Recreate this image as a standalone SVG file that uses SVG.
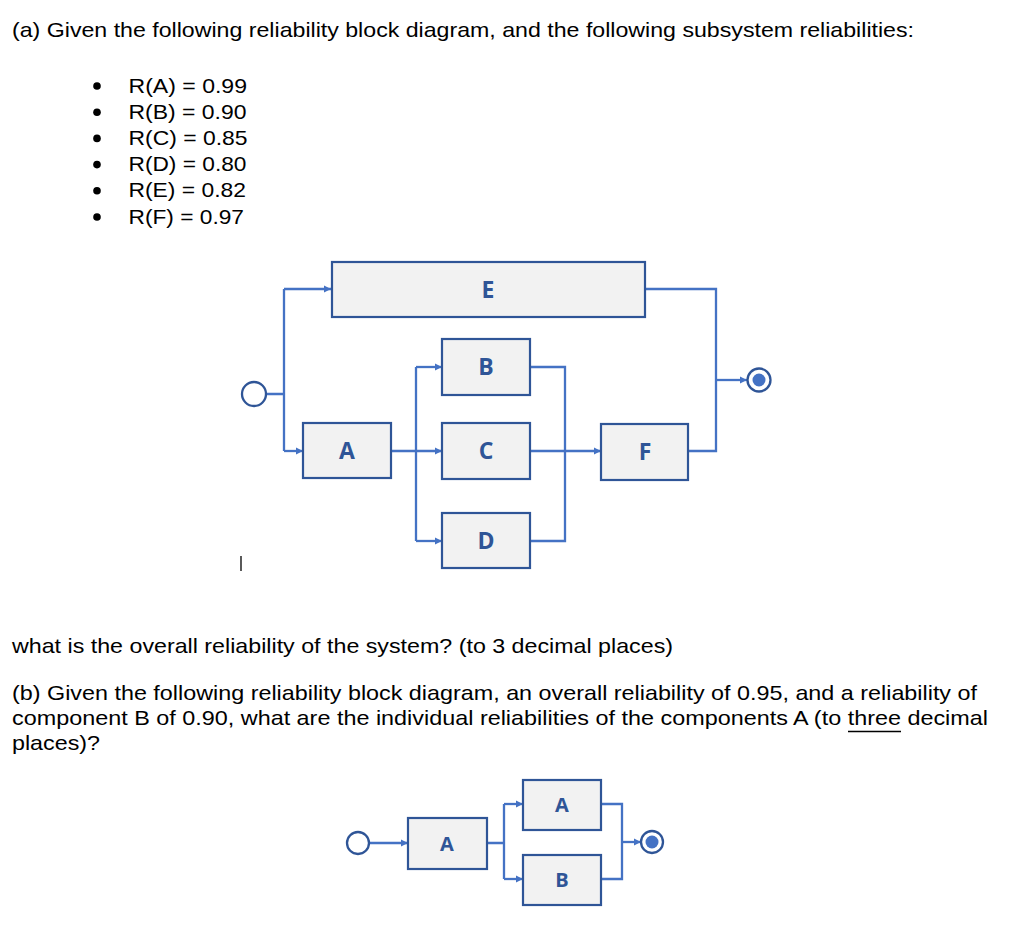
<svg xmlns="http://www.w3.org/2000/svg" width="1024" height="929" viewBox="0 0 1024 929">
<style>
.t{font-family:"Liberation Sans",Arial,sans-serif;font-size:21px;fill:#000}
.box{fill:#F2F2F2;stroke:#2F5597;stroke-width:2.2}
.lbl{font-family:"Open Sans","Liberation Sans",sans-serif;font-weight:700;font-size:23px;fill:#2F5597;text-anchor:middle}
.lbs{font-size:20px}
.ln{fill:none;stroke:#4472C4;stroke-width:2.3}
.ar{fill:none;stroke:#4472C4;stroke-width:2.3;marker-end:url(#arr)}
.st{fill:#fff;stroke:#2F5597;stroke-width:2.3}
</style>
<defs>
<marker id="arr" markerUnits="userSpaceOnUse" markerWidth="8" markerHeight="8" refX="7" refY="4" orient="auto">
<path d="M0,0.6 L7,4 L0,7.4 z" fill="#4472C4"/>
</marker>
</defs>
<rect width="1024" height="929" fill="#fff"/>
<g id="text">
<text class="t" x="12" y="37" textLength="902" lengthAdjust="spacingAndGlyphs">(a) Given the following reliability block diagram, and the following subsystem reliabilities:</text>
<g fill="#000">
<circle cx="97" cy="86" r="3.8"/><circle cx="97" cy="112.2" r="3.8"/><circle cx="97" cy="138.4" r="3.8"/>
<circle cx="97" cy="164.6" r="3.8"/><circle cx="97" cy="190.8" r="3.8"/><circle cx="97" cy="217" r="3.8"/>
</g>
<text class="t" x="128.5" y="92.5" textLength="118.5" lengthAdjust="spacingAndGlyphs">R(A) = 0.99</text>
<text class="t" x="128.5" y="118.7" textLength="118" lengthAdjust="spacingAndGlyphs">R(B) = 0.90</text>
<text class="t" x="128.5" y="144.9" textLength="119" lengthAdjust="spacingAndGlyphs">R(C) = 0.85</text>
<text class="t" x="128.5" y="171.1" textLength="118" lengthAdjust="spacingAndGlyphs">R(D) = 0.80</text>
<text class="t" x="128.5" y="197.3" textLength="117.5" lengthAdjust="spacingAndGlyphs">R(E) = 0.82</text>
<text class="t" x="128.5" y="223.5" textLength="115.5" lengthAdjust="spacingAndGlyphs">R(F) = 0.97</text>
<line x1="241" y1="556" x2="241" y2="571" stroke="#000" stroke-width="1.3"/>
<text class="t" x="12" y="653" textLength="661" lengthAdjust="spacingAndGlyphs">what is the overall reliability of the system? (to 3 decimal places)</text>
<text class="t" x="12" y="700" textLength="965" lengthAdjust="spacingAndGlyphs">(b) Given the following reliability block diagram, an overall reliability of 0.95, and a reliability of</text>
<text class="t" x="12" y="725" textLength="976" lengthAdjust="spacingAndGlyphs">component B of 0.90, what are the individual reliabilities of the components A (to three decimal</text>
<line x1="848" y1="731.5" x2="901" y2="731.5" stroke="#000" stroke-width="1.4"/>
<text class="t" x="12" y="750" textLength="88" lengthAdjust="spacingAndGlyphs">places)?</text>
</g>
<g id="connectors">
<path class="ln" d="M266,394 H284 M284,289 V451"/>
<path class="ar" d="M284,289 H331"/>
<path class="ar" d="M284,451 H303"/>
<path class="ar" d="M391,451 H442"/>
<path class="ln" d="M416,367 V541"/>
<path class="ar" d="M416,367 H442"/>
<path class="ar" d="M416,541 H442"/>
<path class="ln" d="M530,367 H565 V541 H530"/>
<path class="ar" d="M530,451 H601"/>
<path class="ln" d="M645,289 H716 V451 H688"/>
<path class="ar" d="M716,380 H747"/>
<path class="ar" d="M369,843 H408"/>
<path class="ln" d="M487,843 H504 M504,804 V879"/>
<path class="ar" d="M504,804 H523"/>
<path class="ar" d="M504,879 H523"/>
<path class="ln" d="M601,804 H622 V879 H601"/>
<path class="ar" d="M622,842 H641"/>
</g>
<g id="start1"><circle class="st" cx="254" cy="394" r="12"/></g>
<g id="end1"><circle class="st" cx="759" cy="380" r="11.5"/><circle cx="759" cy="380" r="6.5" fill="#4472C4"/></g>
<g id="nodeE"><rect class="box" x="332" y="262" width="313" height="55"/><text class="lbl" x="488" y="298">E</text></g>
<g id="nodeA"><rect class="box" x="303" y="423" width="88" height="55"/><text class="lbl" x="347" y="459">A</text></g>
<g id="nodeB"><rect class="box" x="442" y="339" width="88" height="56"/><text class="lbl" x="486" y="375">B</text></g>
<g id="nodeC"><rect class="box" x="442" y="423" width="88" height="56"/><text class="lbl" x="486" y="459">C</text></g>
<g id="nodeD"><rect class="box" x="442" y="513" width="88" height="55"/><text class="lbl" x="486" y="549">D</text></g>
<g id="nodeF"><rect class="box" x="601" y="424" width="87" height="56"/><text class="lbl" x="645" y="460">F</text></g>
<g id="start2"><circle class="st" cx="358" cy="843" r="11"/></g>
<g id="end2"><circle class="st" cx="652" cy="842" r="11"/><circle cx="652" cy="842" r="6.5" fill="#4472C4"/></g>
<g id="nodeA1"><rect class="box" x="408" y="818" width="79" height="51"/><text class="lbl lbs" x="447" y="851">A</text></g>
<g id="nodeA2"><rect class="box" x="523" y="780" width="78" height="50"/><text class="lbl lbs" x="562" y="812">A</text></g>
<g id="nodeB2"><rect class="box" x="523" y="855" width="78" height="50"/><text class="lbl lbs" x="562" y="887">B</text></g>
</svg>
